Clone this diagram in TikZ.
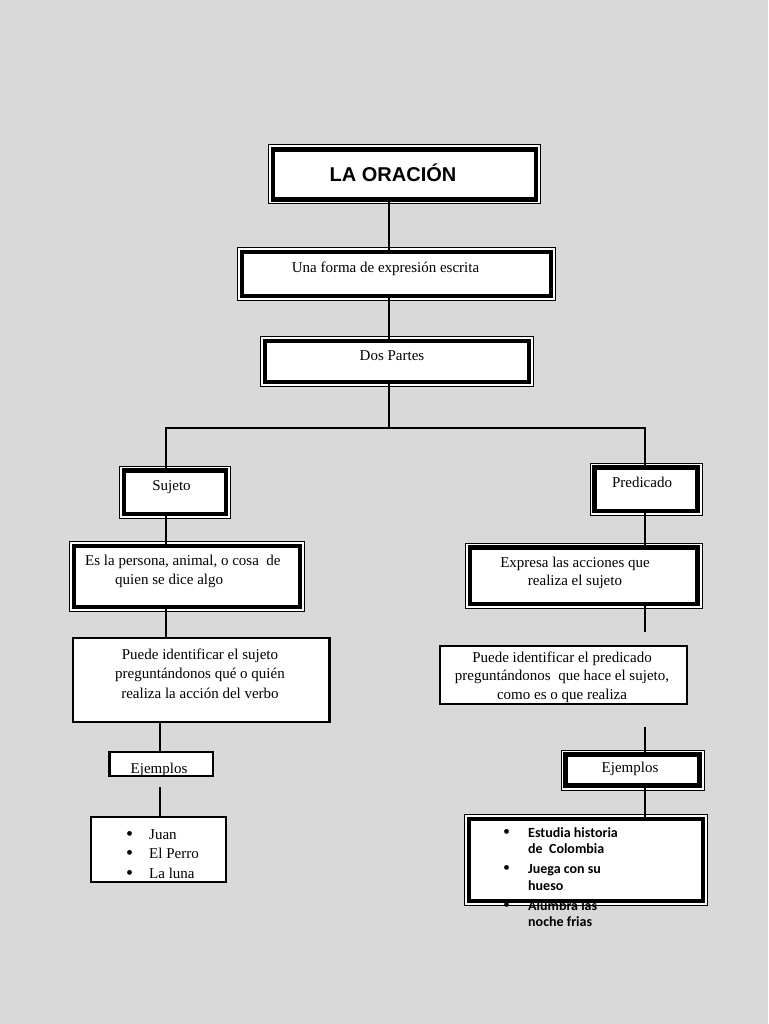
\documentclass[tikz,border=0pt]{standalone}
\usepackage{fontspec}
\setmainfont{Liberation Serif}
\newfontfamily\headfont{Liberation Sans}
\newfontfamily\listfont{Carlito}
\usepackage{tikz}
\usetikzlibrary{backgrounds}
\definecolor{paper}{RGB}{217,217,217}
\newcommand{\boxlines}[1]{\begin{tabular}[t]{@{}c@{}}#1\end{tabular}}
\newcommand{\blt}{{\rmfamily\mdseries\fontsize{20}{20}\selectfont\raisebox{-1pt}{\textbullet}}}

\begin{document}
\begin{tikzpicture}[
    x=1pt, y=-1pt,
    dblbox/.style={draw, fill=white, line width=4.5pt, outer sep=0pt, inner sep=0pt},
    plainbox/.style={draw, fill=white, line width=2.5pt, outer sep=0pt, inner sep=0pt},
    outerline/.style={draw, fill=white, line width=1pt},
    link/.style={line width=2.5pt},
    txt/.style={inner sep=0pt, anchor=base, font=\fontsize{15}{19.5}\selectfont},
    headtxt/.style={inner sep=0pt, anchor=base, font=\headfont\bfseries\fontsize{20}{24}\selectfont},
    listtxt/.style={inner sep=0pt, anchor=base west, font=\listfont\bfseries\fontsize{14}{16.5}\selectfont}
]
\useasboundingbox (0,0) rectangle (768,1024);
\node[dblbox, minimum width=263pt, minimum height=50pt] (title) at (404.5,174.5) {};
\node[dblbox, minimum width=309pt, minimum height=44pt] (forma) at (396.5,274) {};
\node[dblbox, minimum width=264pt, minimum height=41pt] (partes) at (397,361.5) {};
\node[dblbox, minimum width=102pt, minimum height=43.5pt] (suj) at (175,492.25) {};
\node[dblbox, minimum width=103pt, minimum height=43.5pt] (pred) at (646,489.25) {};
\node[dblbox, minimum width=226pt, minimum height=61pt] (persona) at (187,576.5) {};
\node[dblbox, minimum width=227.5pt, minimum height=56.5pt] (expresa) at (583.75,575.75) {};
\node[plainbox, minimum width=256.5pt, minimum height=84pt] (puedeS) at (201.25,680) {};
\node[plainbox, minimum width=247pt, minimum height=58pt] (puedeP) at (563.5,675) {};
\node[plainbox, minimum width=103.5pt, minimum height=24pt] (ejL) at (161.25,764) {};
\node[dblbox, minimum width=134pt, minimum height=31pt] (ejR) at (632.5,770) {};
\node[plainbox, minimum width=135pt, minimum height=65pt] (listL) at (158.5,849.5) {};
\node[dblbox, minimum width=234pt, minimum height=82pt] (listR) at (586,860) {};

\begin{scope}[on background layer]
\fill[paper] (0,0) rectangle (768,1024);
\foreach \n in {title,forma,partes,suj,pred,persona,expresa,ejR,listR}
    \draw[outerline] ([shift={(-4.5pt,4.5pt)}]\n.north west) rectangle ([shift={(4.5pt,-4.5pt)}]\n.south east);
\end{scope}

\coordinate (trunk) at (389,428);
\coordinate (jL) at (166,428);
\coordinate (jR) at (645,428);
\coordinate (jL2) at (160,428);
\draw[link] (title.south -| trunk) -- (forma.north -| trunk);
\draw[link] (forma.south -| trunk) -- (partes.north -| trunk);
\draw[link] (partes.south -| trunk) -- (trunk);
\draw[link] (suj.north -| jL) -- (jL) -- (jR) -- (pred.north -| jR);
\draw[link] (suj.south -| jL) -- (persona.north -| jL);
\draw[link] (persona.south -| jL) -- (puedeS.north -| jL);
\draw[link] (puedeS.south -| jL2) -- (ejL.north -| jL2);
\draw[link, shorten <=11pt] (ejL.south -| jL2) -- (listL.north -| jL2);
\draw[link] (pred.south -| jR) -- (expresa.north -| jR);
\draw[link, shorten >=14pt] (expresa.south -| jR) -- (puedeP.north -| jR);
\draw[link, shorten <=23pt] (puedeP.south -| jR) -- (ejR.north -| jR);
\draw[link] (ejR.south -| jR) -- (listR.north -| jR);

\node[headtxt] (titleT) at (393,182) {LA ORACIÓN};
\node[txt] (formaT) at (385.5,272) {Una forma de expresión escrita};
\node[txt] (partesT) at (392,360) {Dos Partes};
\node[txt] (sujT) at (171.5,490) {Sujeto};
\node[txt] (predT) at (642,487) {Predicado};
\node[txt, anchor=base west] (personaT) at (85,565) {\begin{tabular}[t]{@{}l@{}}Es la persona, animal, o cosa~ de\\\hspace*{30pt}quien se dice algo\end{tabular}};
\node[txt] (expresaT) at (575,567) {\boxlines{Expresa las acciones que\\[-1.5pt]realiza el sujeto}};
\node[txt] (puedeST) at (200,659) {\boxlines{Puede identificar el sujeto\\preguntándonos qué o quién\\realiza la acción del verbo}};
\node[txt] (puedePT) at (562,662) {\boxlines{Puede identificar el predicado\\[-1pt]preguntándonos~ que hace el sujeto,\\[-1pt]como es o que realiza}};
\node[txt] (ejLT) at (159,773) {Ejemplos};
\node[txt] (ejRT) at (630,772) {Ejemplos};
\node[txt, anchor=base west] (listLT) at (126,839) {\begin{tabular}[t]{@{}l@{\hspace{16pt}}l@{}}\blt & Juan\\\blt & El Perro\\\blt & La luna\end{tabular}};
\node[listtxt] (listRT) at (503,837) {\begin{tabular}[t]{@{}l@{\hspace{18pt}}l@{}}\blt & Estudia historia\\ & de~ Colombia\\[3.5pt]\blt & Juega con su\\ & hueso\\[3.5pt]\blt & Alumbra las\\ & noche frias\end{tabular}};
\draw[line width=4.5pt] (listR.south west) -- (listR.south east);
\end{tikzpicture}
\end{document}
